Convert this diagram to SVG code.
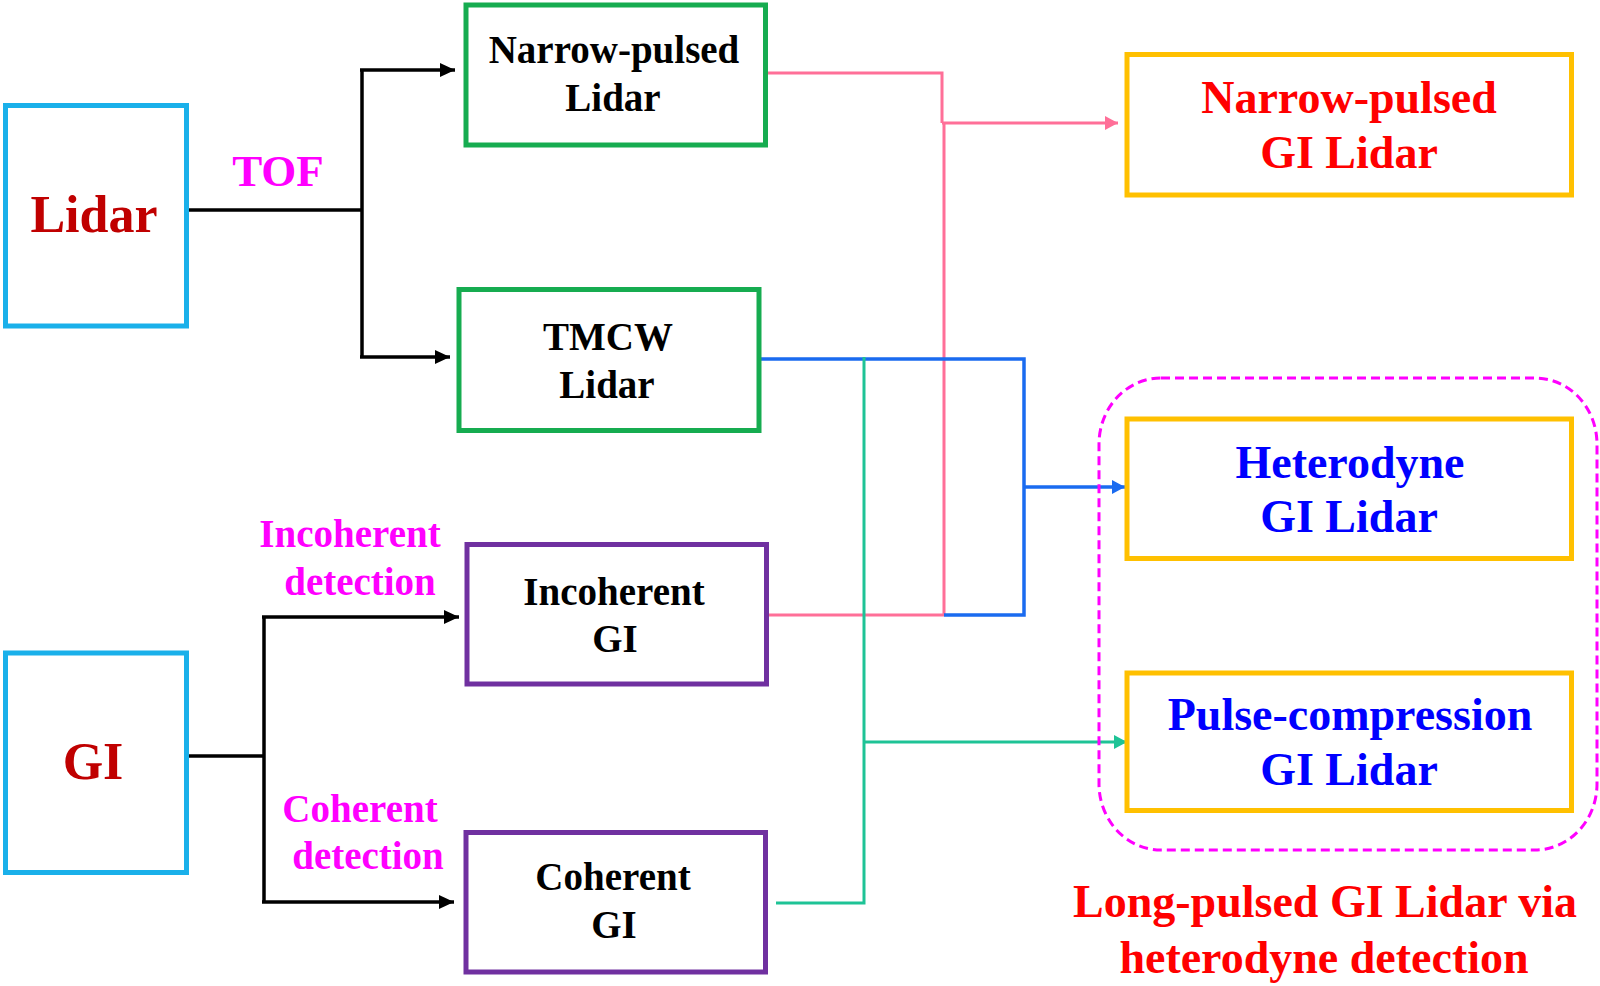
<svg xmlns="http://www.w3.org/2000/svg" width="1600" height="986" viewBox="0 0 1600 986">
<defs>
<style>
text{font-family:"Liberation Serif","Times New Roman",serif;font-weight:bold;text-anchor:middle}
.big{font-size:52px;fill:#C00000}
.mid{font-size:39px;fill:#000}
.lbl{font-size:39px;fill:#FF00FF}
.out{font-size:46px}
.cy{fill:#fff;stroke:#1AB0EA;stroke-width:5}
.gr{fill:#fff;stroke:#16AC50;stroke-width:5}
.pu{fill:#fff;stroke:#7030A0;stroke-width:5}
.or{fill:#fff;stroke:#FFC000;stroke-width:5}
.blk{fill:none;stroke:#000;stroke-width:3.5}
.pk{fill:none;stroke:#FF6F98;stroke-width:3}
.bl{fill:none;stroke:#1A6BF0;stroke-width:3.5}
.tl{fill:none;stroke:#1EC396;stroke-width:3}
</style>
<marker id="aBlk" markerWidth="15" markerHeight="14" refX="15" refY="7" orient="auto" markerUnits="userSpaceOnUse"><path d="M0,0 L15,7 L0,14 z" fill="#000"/></marker>
<marker id="aPk" markerWidth="13" markerHeight="14" refX="13" refY="7" orient="auto" markerUnits="userSpaceOnUse"><path d="M0,0 L13,7 L0,14 z" fill="#FF6F98"/></marker>
<marker id="aBl" markerWidth="13" markerHeight="14" refX="13" refY="7" orient="auto" markerUnits="userSpaceOnUse"><path d="M0,0 L13,7 L0,14 z" fill="#1A6BF0"/></marker>
<marker id="aTl" markerWidth="13" markerHeight="14" refX="13" refY="7" orient="auto" markerUnits="userSpaceOnUse"><path d="M0,0 L13,7 L0,14 z" fill="#1EC396"/></marker>
</defs>
<rect width="1600" height="986" fill="#fff"/>

<g id="connectors">
<path class="blk" d="M187,210 H362"/>
<path class="blk" d="M362,70 V357"/>
<path class="blk" d="M360,70 H455" marker-end="url(#aBlk)"/>
<path class="blk" d="M360,357 H450" marker-end="url(#aBlk)"/>
<path class="blk" d="M187,756 H264"/>
<path class="blk" d="M264,617 V902"/>
<path class="blk" d="M262,617 H459" marker-end="url(#aBlk)"/>
<path class="blk" d="M262,902 H454" marker-end="url(#aBlk)"/>

<path class="pk" d="M767,73 H942 V123"/>
<path class="pk" d="M942,123 H1118" marker-end="url(#aPk)"/>
<path class="pk" d="M944,123 V615"/>
<path class="pk" d="M769,615 H944"/>

<path class="bl" d="M944,615 H1024 V359 H761"/>
<path class="bl" d="M1024,487 H1125" marker-end="url(#aBl)"/>

<path class="tl" d="M776,903 H864 V357"/>
<path class="tl" d="M864,742 H1127" marker-end="url(#aTl)"/>
</g>

<g id="node-lidar"><rect class="cy" x="5.5" y="105.5" width="181" height="220.5"/><text class="big" x="94" y="232">Lidar</text></g>
<g id="label-tof"><text class="lbl" x="278" y="186" style="font-size:45px">TOF</text></g>
<g id="node-gi"><rect class="cy" x="5.5" y="653" width="181" height="219.5"/><text class="big" x="93" y="779">GI</text></g>

<g id="node-narrow-lidar"><rect class="gr" x="466" y="5" width="299.5" height="140"/><text class="mid" x="614" y="63">Narrow-pulsed</text><text class="mid" x="613" y="111">Lidar</text></g>
<g id="node-tmcw"><rect class="gr" x="459" y="289.5" width="300" height="141"/><text class="mid" x="608" y="350">TMCW</text><text class="mid" x="607" y="398">Lidar</text></g>
<g id="node-incoherent-gi"><rect class="pu" x="467" y="544.5" width="299.5" height="139.5"/><text class="mid" x="614" y="605">Incoherent</text><text class="mid" x="615" y="652">GI</text></g>
<g id="node-coherent-gi"><rect class="pu" x="466" y="832.5" width="299.5" height="139.5"/><text class="mid" x="613" y="890">Coherent</text><text class="mid" x="614" y="938">GI</text></g>

<g id="label-incoherent"><text class="lbl" x="350" y="547">Incoherent</text><text class="lbl" x="360" y="595">detection</text></g>
<g id="label-coherent"><text class="lbl" x="360" y="822">Coherent</text><text class="lbl" x="368" y="869">detection</text></g>

<g id="group-longpulsed"><rect x="1099" y="378" width="498" height="472" rx="62" ry="66" fill="none" stroke="#FF00FF" stroke-width="3" stroke-dasharray="9 5"/><text class="out" x="1325" y="917" fill="#FF0000">Long-pulsed GI Lidar via</text><text class="out" x="1324" y="973" fill="#FF0000">heterodyne detection</text></g>

<g id="node-narrow-gi"><rect class="or" x="1127" y="54.5" width="444.5" height="140.5"/><text class="out" x="1349" y="113" fill="#FF0000">Narrow-pulsed</text><text class="out" x="1349" y="168" fill="#FF0000">GI Lidar</text></g>
<g id="node-heterodyne"><rect class="or" x="1127" y="419" width="444.5" height="139.5"/><text class="out" x="1350" y="478" fill="#0000FF">Heterodyne</text><text class="out" x="1349" y="532" fill="#0000FF">GI Lidar</text></g>
<g id="node-pulse-compression"><rect class="or" x="1127" y="673" width="444.5" height="137.5"/><text class="out" x="1350" y="730" fill="#0000FF">Pulse-compression</text><text class="out" x="1349" y="785" fill="#0000FF">GI Lidar</text></g>
</svg>
